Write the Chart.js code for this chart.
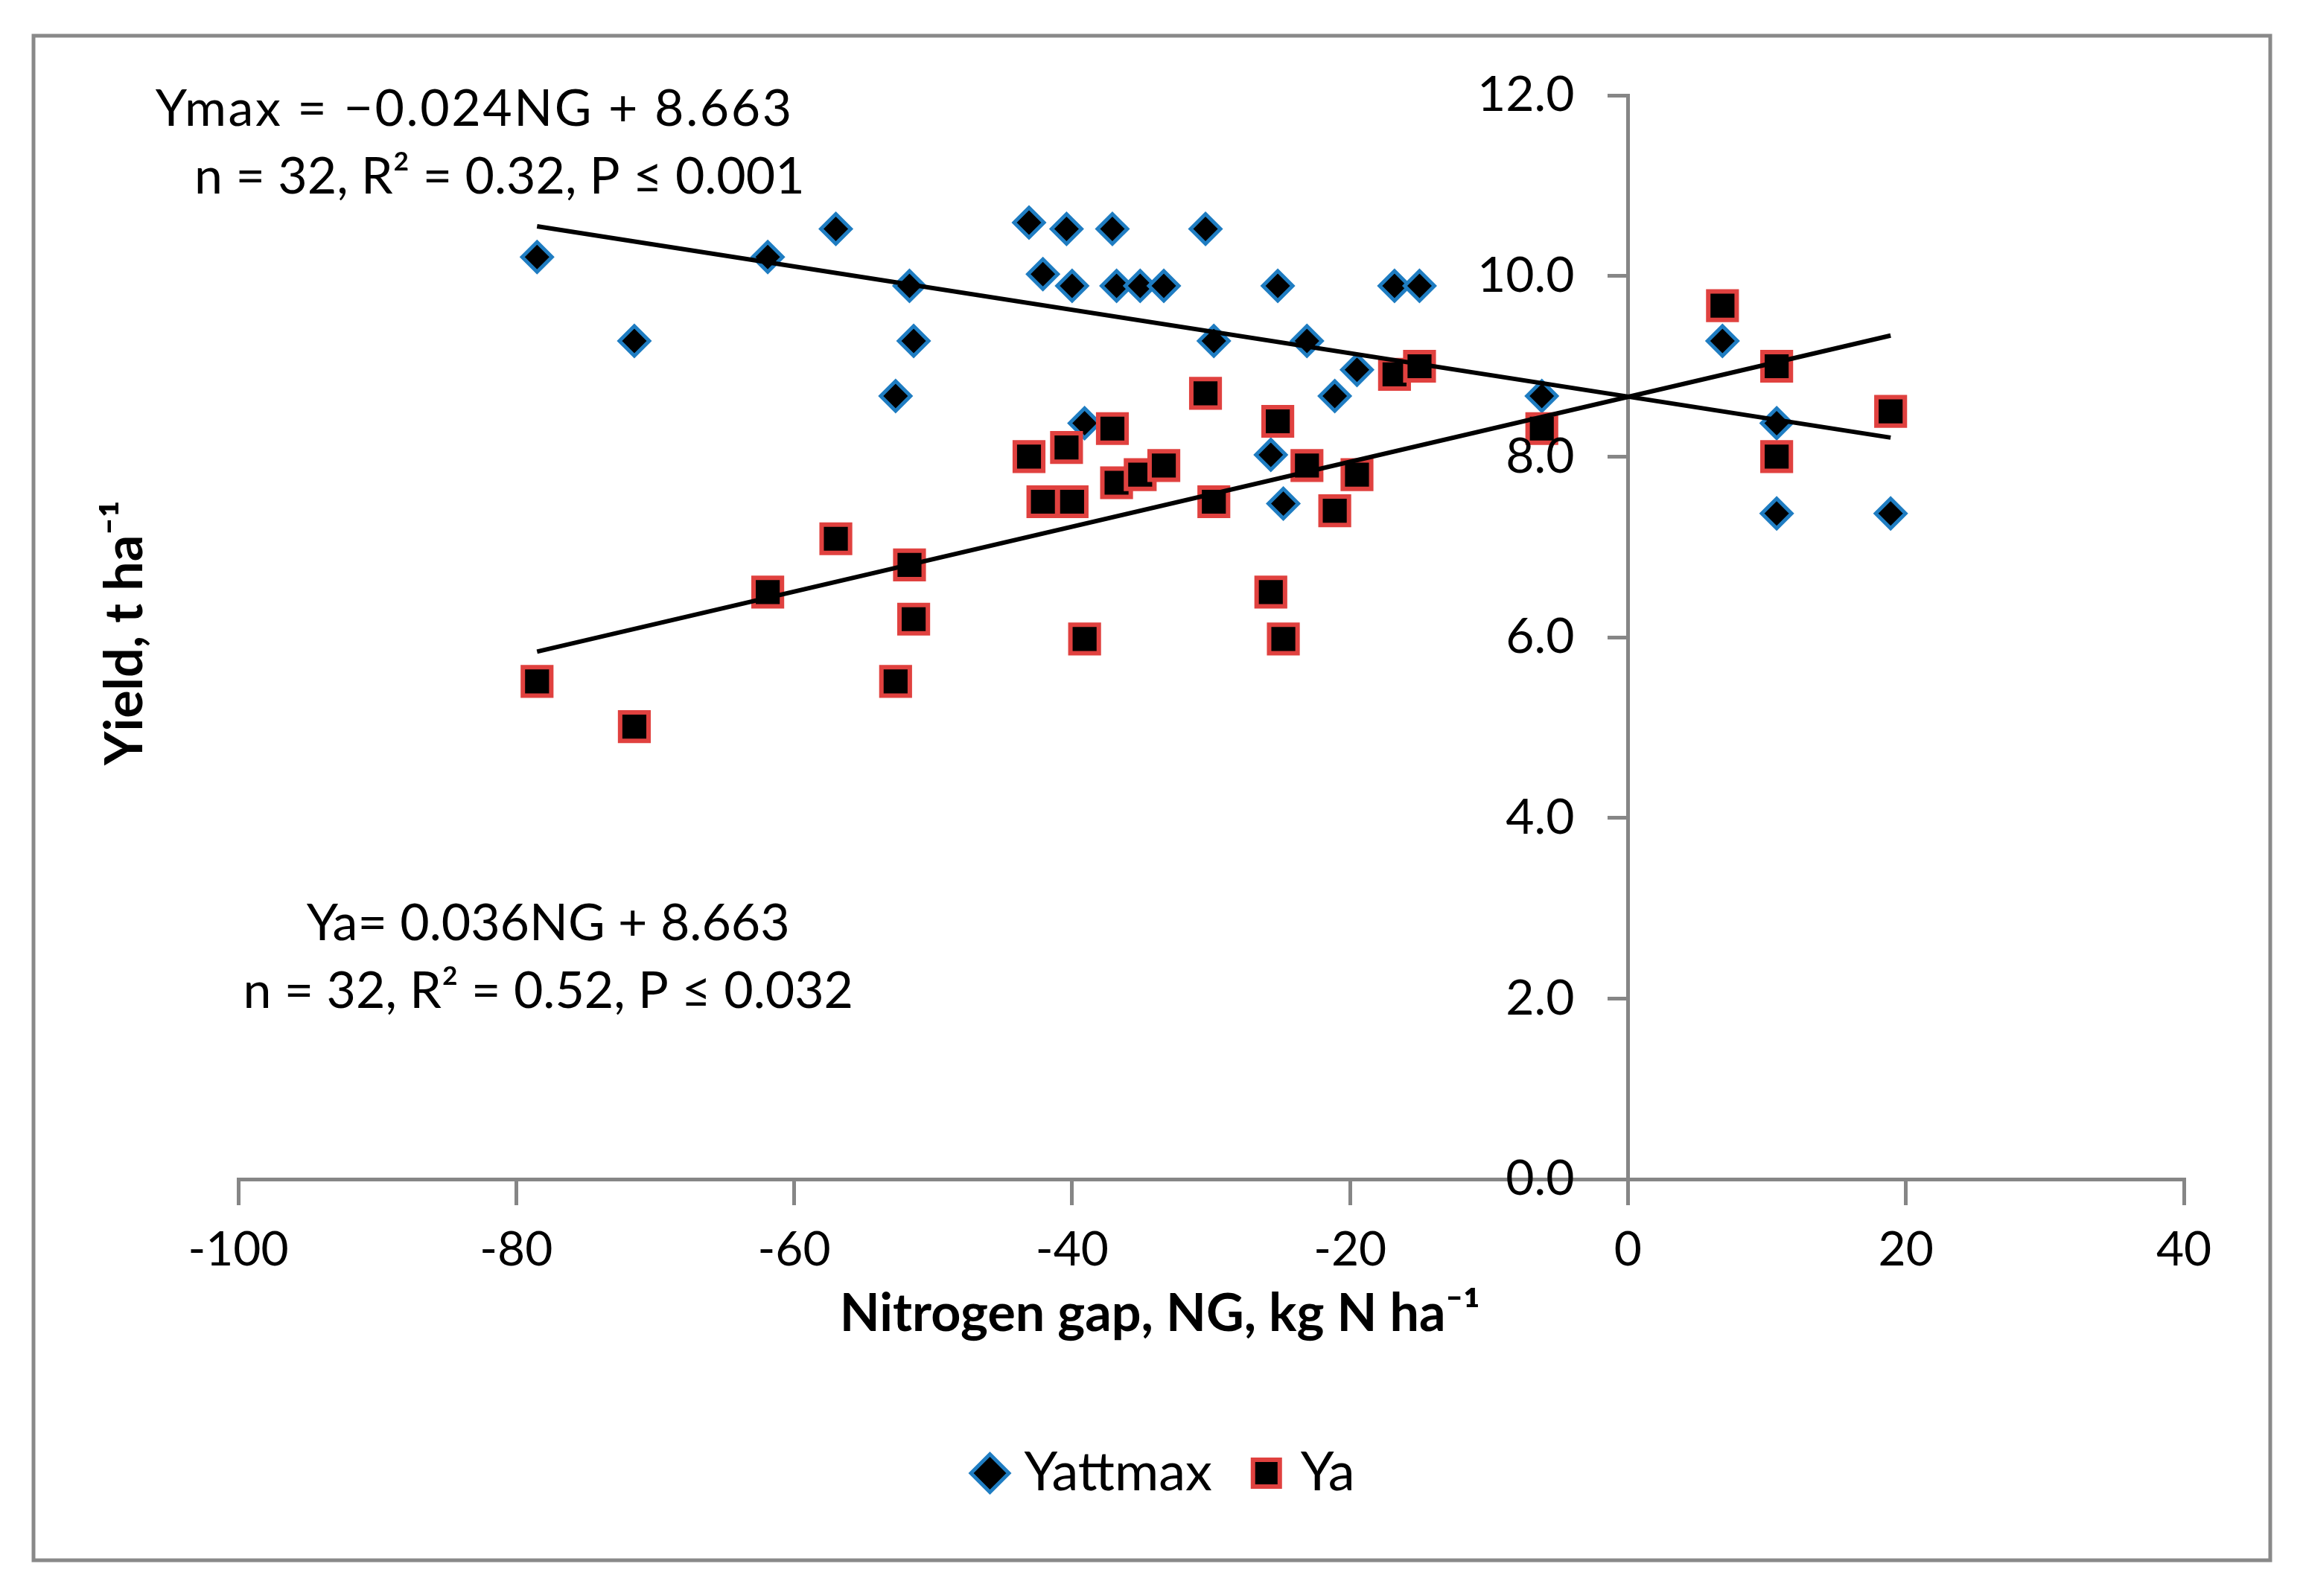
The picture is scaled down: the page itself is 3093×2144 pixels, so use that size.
<!DOCTYPE html>
<html lang="en">
<head>
<meta charset="UTF-8" />
<title>Yield vs nitrogen gap</title>
<script src="https://cdn.jsdelivr.net/npm/chart.js"></script>
<style>
  html, body { margin: 0; padding: 0; background: #fff; overflow: hidden; }
  canvas { display: block; }
</style>
</head>
<body>
<canvas id="chart" width="3093" height="2144"></canvas>
<script>
  // nitrogen gap per site (kg N/ha), shared by both series
  const nitrogenGap = [-78.5, -71.5, -61.9, -57.0, -51.7, -51.4, -52.7, -43.1, -42.1, -40.4, -40.0,
                       -39.1, -37.1, -36.8, -35.1, -33.4, -30.4, -29.8, -25.2, -25.7, -24.8, -23.1,
                       -21.1, -19.5, -16.8, -15.0, -6.2, 6.8, 10.7, 10.7, 18.9];
  const yattmax = [10.21, 9.28, 10.21, 10.52, 9.89, 9.28, 8.67, 10.59, 10.02, 10.52, 9.89,
                   8.37, 10.52, 9.89, 9.89, 9.89, 10.52, 9.28, 9.89, 8.02, 7.48, 9.28,
                   8.67, 8.96, 9.89, 9.89, 8.67, 9.28, 8.37, 7.37, 7.37];
  const ya = [5.51, 5.01, 6.50, 7.09, 6.80, 6.20, 5.51, 8.00, 7.50, 8.10, 7.50,
              5.98, 8.31, 7.71, 7.80, 7.90, 8.70, 7.50, 8.39, 6.50, 5.98, 7.90,
              7.40, 7.80, 8.91, 9.00, 8.31, 9.67, 9.00, 8.00, 8.50];

  // regression lines, read at their two ends
  const trendX = [-78.5, 18.9];
  const ymaxTrend = [10.55, 8.21];
  const yaTrend = [5.84, 9.34];

  const xTitle = 'Nitrogen gap, NG, kg N ha\u207B\u00B9';
  const yTitle = 'Yield, t ha\u207B\u00B9';

  const notes = [
    { text: 'Ymax = \u22120.024NG + 8.663', x: -83.0, y: 11.84, spacing: '2.6px' },
    { text: 'n = 32, R\u00B2 = 0.32, P \u2264 0.001', x: -81.2, y: 11.09, spacing: '0px' },
    { text: 'Ya= 0.036NG + 8.663', x: -77.7, y: 2.83, spacing: '0px' },
    { text: 'n = 32, R\u00B2 = 0.52, P \u2264 0.032', x: -77.7, y: 2.08, spacing: '0px' }
  ];

  const toPoints = (xs, ys) => xs.map((x, i) => ({ x: x, y: ys[i] }));

  Chart.defaults.font.family = 'Lato';
  Chart.defaults.color = '#000';

  const axisGrey = '#868686';

  const frameAndText = {
    id: 'frameAndText',
    beforeDraw(chart) {
      const ctx = chart.ctx;
      ctx.save();
      ctx.fillStyle = '#fff';
      ctx.fillRect(0, 0, chart.width, chart.height);
      ctx.strokeStyle = '#898989';
      ctx.lineWidth = 5;
      ctx.strokeRect(45, 48, 3004, 2048);
      ctx.restore();
    },
    afterDraw(chart) {
      const ctx = chart.ctx;
      const xs = chart.scales.x;
      const ys = chart.scales.y;
      ctx.save();
      ctx.fillStyle = '#000';
      ctx.textBaseline = 'middle';

      // y tick labels sit left of the axis line drawn at x = 0
      ctx.textAlign = 'right';
      ctx.font = '66px Lato';
      const axisX = xs.getPixelForValue(0);
      ys.ticks.forEach(t => ctx.fillText(t.value.toFixed(1), axisX - 72, ys.getPixelForValue(t.value)));

      ctx.textAlign = 'center';
      ctx.font = '68px Lato';
      notes.forEach(n => {
        if ('letterSpacing' in ctx) ctx.letterSpacing = n.spacing;
        ctx.fillText(n.text, xs.getPixelForValue(n.x), ys.getPixelForValue(n.y));
      });
      if ('letterSpacing' in ctx) ctx.letterSpacing = '0px';

      ctx.font = 'bold 70px Lato';
      ctx.fillText(xTitle, 1558, 1765);
      ctx.translate(168, 850);
      ctx.rotate(-Math.PI / 2);
      ctx.fillText(yTitle, 0, 0);
      ctx.restore();
    }
  };

  new Chart(document.getElementById('chart'), {
    type: 'scatter',
    data: {
      datasets: [
        {
          label: 'Ymax trend',
          data: toPoints(trendX, ymaxTrend),
          showLine: true,
          borderColor: '#000',
          borderWidth: 6,
          pointRadius: 0,
          order: 0
        },
        {
          label: 'Ya trend',
          data: toPoints(trendX, yaTrend),
          showLine: true,
          borderColor: '#000',
          borderWidth: 6,
          pointRadius: 0,
          order: 0
        },
        {
          label: 'Yattmax',
          data: toPoints(nitrogenGap, yattmax),
          pointStyle: 'rectRot',
          pointRadius: 20,
          pointHoverRadius: 20,
          backgroundColor: '#000',
          borderColor: '#1F7DC2',
          borderWidth: 5,
          order: 2
        },
        {
          label: 'Ya',
          data: toPoints(nitrogenGap, ya),
          pointStyle: 'rect',
          pointRadius: 27,
          pointHoverRadius: 27,
          backgroundColor: '#000',
          borderColor: '#E0413F',
          borderWidth: 6,
          order: 1
        }
      ]
    },
    options: {
      responsive: false,
      devicePixelRatio: 1,
      animation: false,
      layout: { padding: { top: 128, left: 206, right: 160, bottom: 119 } },
      plugins: {
        tooltip: { enabled: false },
        legend: {
          position: 'bottom',
          labels: {
            usePointStyle: true,
            boxWidth: 20,
            boxHeight: 36,
            padding: 63,
            font: { size: 72 },
            filter: item => item.datasetIndex >= 2,
            sort: (a, b) => a.datasetIndex - b.datasetIndex
          }
        }
      },
      scales: {
        x: {
          type: 'linear',
          position: 'bottom',
          min: -100,
          max: 40,
          afterFit: scale => { scale.height = 296; },
          ticks: {
            stepSize: 20,
            padding: 22,
            font: { size: 64 },
            callback: v => String(v)
          },
          grid: { drawOnChartArea: false, tickLength: 35, color: axisGrey, lineWidth: 5 },
          border: { color: axisGrey, width: 5 }
        },
        y: {
          type: 'linear',
          position: { x: 0 },
          min: 0,
          max: 12,
          ticks: { stepSize: 2, display: false },
          grid: { drawOnChartArea: false, tickLength: 25, color: axisGrey, lineWidth: 5 },
          border: { color: axisGrey, width: 5 }
        },
        // empty left strip that holds the space for the y title
        titleStrip: {
          type: 'linear',
          position: 'left',
          afterFit: scale => { scale.width = 114; },
          ticks: { display: false },
          grid: { display: false },
          border: { display: false }
        }
      }
    },
    plugins: [frameAndText]
  });
</script>
</body>
</html>
